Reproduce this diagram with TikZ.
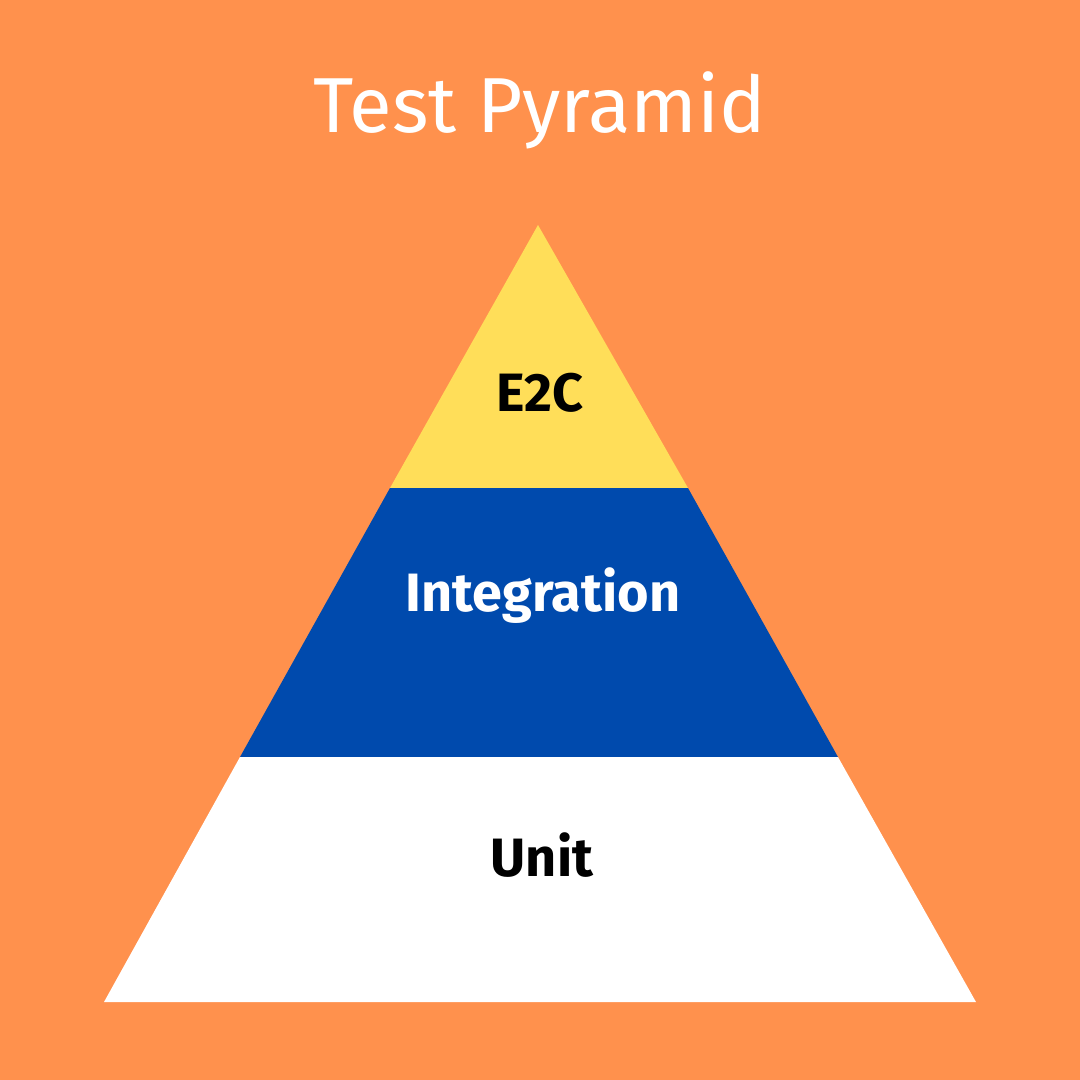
\documentclass[tikz,border=0pt]{standalone}
\usepackage{fontspec}
\setmainfont{Fira Sans}
\definecolor{bg}{HTML}{FF914D}
\definecolor{yel}{HTML}{FFDE59}
\definecolor{blu}{HTML}{004AAD}
\tikzset{lab/.style={font=\fontsize{54}{60}\selectfont\bfseries}}
\begin{document}
\begin{tikzpicture}[x=1pt,y=-1pt]
\fill[bg] (0,0) rectangle (1080,1080);
\useasboundingbox (0,0) rectangle (1080,1080);
\fill[yel] (538,225) -- (688,488) -- (390,488) -- cycle;
\fill[blu] (390,488) -- (688,488) -- (838,757) -- (240,757) -- cycle;
\fill[white] (240,757) -- (838,757) -- (976,1002) -- (104,1002) -- cycle;
\node[text=white,font=\fontsize{78}{86}\selectfont\addfontfeature{Weight=300}] (title) at (540,110) {Test Pyramid};
\node[lab,text=black] (e2c) at (540,393) {E2C};
\node[lab,text=white] (int) at (543,596) {Integration};
\node[lab,text=black] (unit) at (542,855) {Unit};
\end{tikzpicture}
\end{document}
